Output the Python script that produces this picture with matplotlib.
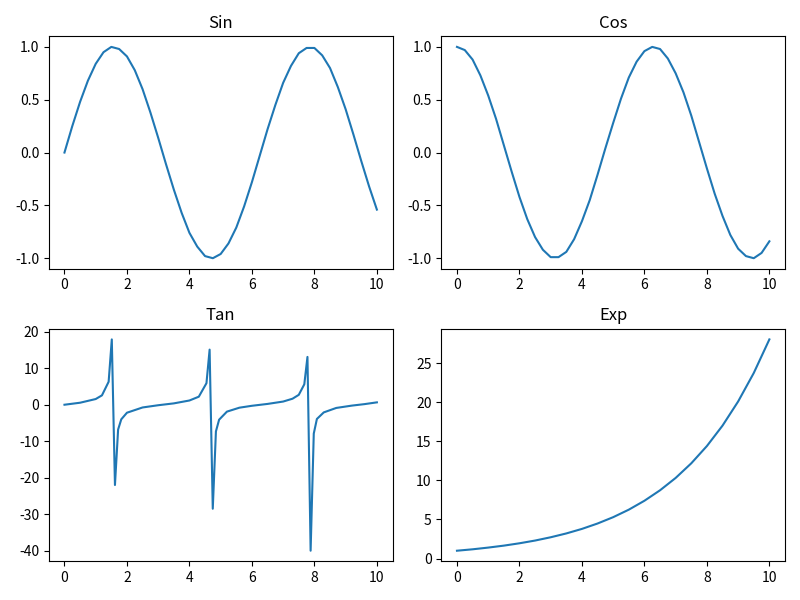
import matplotlib
matplotlib.use("Agg")
import matplotlib.pyplot as plt

plt.rcParams['font.family'] = ['Noto Sans CJK SC', 'DejaVu Sans']
plt.rcParams['axes.unicode_minus'] = False

# values
x_q = [i * 0.25 for i in range(41)]
sin_y = [0, .25, .48, .68, .84, .95, 1.00, .98, .91, .78, .60, .38, .14, -.11, -.35, -.57,
         -.76, -.89, -.98, -1.00, -.96, -.86, -.71, -.51, -.28, -.03, .22, .45, .66, .82,
         .94, .99, .99, .92, .80, .62, .41, .17, -.08, -.32, -.54]
cos_y = [1, .97, .88, .73, .54, .32, .07, -.18, -.42, -.63, -.80, -.92, -.99, -.99, -.94,
         -.82, -.65, -.45, -.21, .04, .28, .51, .71, .86, .96, 1.00, .98, .89, .75, .57,
         .35, .10, -.15, -.39, -.60, -.78, -.91, -.98, -1.00, -.95, -.84]

tan_x = [0, .5, 1, 1.2, 1.414, 1.515, 1.616, 1.717, 1.818, 2, 2.5, 3, 3.5, 4, 4.3, 4.545,
         4.646, 4.747, 4.848, 4.95, 5.2, 5.6, 6, 6.5, 7, 7.3, 7.5, 7.677, 7.778, 7.879,
         7.980, 8.08, 8.3, 8.7, 9.2, 9.6, 10]
tan_y = [0, .55, 1.56, 2.57, 6.3, 17.9, -22, -6.8, -4.0, -2.19, -.75, -.14, .37, 1.16, 2.2,
         5.9, 15.1, -28.5, -7.3, -4.1, -1.89, -.81, -.29, .22, .87, 1.65, 2.71, 5.6, 13.1,
         -40, -7.9, -3.9, -2.1, -.88, -.24, .16, .65]

exp_x = [i * 0.5 for i in range(21)]
exp_y = [1, 1.18, 1.40, 1.65, 1.95, 2.30, 2.72, 3.21, 3.79, 4.48, 5.29, 6.25, 7.39, 8.73,
         10.31, 12.18, 14.39, 17.00, 20.09, 23.73, 28.03]

fig, axs = plt.subplots(2, 2, figsize=(8, 6), dpi=100)
axs[0, 0].plot(x_q, sin_y)
axs[0, 0].set_title('Sin')
axs[0, 1].plot(x_q, cos_y)
axs[0, 1].set_title('Cos')
axs[1, 0].plot(tan_x, tan_y)
axs[1, 0].set_title('Tan')
axs[1, 1].plot(exp_x, exp_y)
axs[1, 1].set_title('Exp')

fig.tight_layout()
fig.savefig('out.png')
